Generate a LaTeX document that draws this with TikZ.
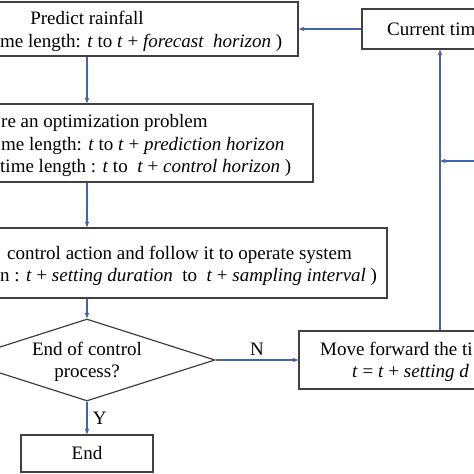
\documentclass[tikz,border=0pt]{standalone}
\usepackage{fontspec}
\setmainfont{Liberation Serif}
\usetikzlibrary{positioning, shapes.geometric, arrows.meta}

\definecolor{flowblue}{RGB}{68,100,170}
\definecolor{boxgray}{RGB}{64,64,64}

\tikzset{
  flowbox/.style={draw=boxgray, line width=1.2pt, inner sep=0pt},
  decision/.style={diamond, draw=boxgray, line width=1.2pt, inner sep=0pt},
  txt/.style={inner sep=0pt, anchor=base west},
  flow/.style={draw=flowblue, line width=1.2pt, -{Stealth[length=6pt, width=4.5pt]}}
}

\begin{document}
\begin{tikzpicture}[x=1pt, y=-1pt, font=\fontsize{19}{22}\selectfont]
    \useasboundingbox (0,0) rectangle (474,474);
    \clip (0,0) rectangle (474,474);

    % Boxes of the flow chart
    \node[flowbox, minimum width=422pt, minimum height=54pt] (predict) at (87,29) {};
    \node[flowbox, minimum width=452pt, minimum height=78pt] (optimize) at (87,143) {};
    \node[flowbox, minimum width=600pt, minimum height=70pt] (operate) at (87,263) {};
    \node[decision, minimum width=256pt, minimum height=82pt] (check) at (87,360) {};
    \node[flowbox, minimum width=132pt, minimum height=37pt] (finish) at (87,453.5) {};
    \node[flowbox, minimum width=282pt, minimum height=58pt] (forward) at (440,360) {};
    \node[flowbox, minimum width=156pt, minimum height=40pt] (current) at (440,29) {};

    % Texts in the boxes
    \node[txt, anchor=base] (predictA) at (87,24.5) {Predict rainfall};
    \node[txt] (predictB) at (0,47) {me length: \textit{t} to \textit{t} + \textit{forecast\ \ horizon} )};

    \node[txt] (optimizeA) at (1,127) {re an optimization\ problem};
    \node[txt] (optimizeB) at (1,150) {me length: \textit{t} to \textit{t} + \textit{prediction horizon}};
    \node[txt] (optimizeC) at (0,172.5) {time length : \textit{t} to\ \ \textit{t} + \textit{control horizon} )};

    \node[txt] (operateA) at (7,259) {control action and follow it to operate system};
    \node[txt] (operateB) at (0,281) {n : \textit{t} + \textit{setting duration}\ \ to\ \ \textit{t} + \textit{sampling interval} )};

    \node[txt, anchor=base] (checkA) at (87,355) {End of control};
    \node[txt, anchor=base] (checkB) at (87,377) {process?};

    \node[txt, anchor=base] (finishA) at (87,459) {End};

    \node[txt] (forwardA) at (320,355) {Move forward the ti};
    \node[txt] (forwardB) at (352,377) {\textit{t} = \textit{t} + \textit{setting d}};

    \node[txt] (currentA) at (387,35) {Current tim};

    % Connectors
    \draw[flow] (predict) -- (optimize);
    \draw[flow] (optimize) -- (operate);
    \draw[flow] (operate) -- (check);
    \draw[flow] (check) -- node[right=2pt] {Y} (finish);
    \draw[flow] (check) -- node[above=1pt] {N} (forward);
    \draw[flow] (forward) -- (current);
    \draw[flow] (current) -- (predict);
    \coordinate (feed) at (480,161);
    \draw[flow] (feed) -- (feed -| forward.north);

\end{tikzpicture}
\end{document}
